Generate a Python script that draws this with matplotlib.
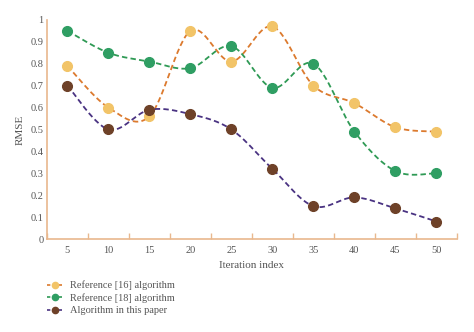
import numpy as np
import matplotlib
matplotlib.use("Agg")
import matplotlib.pyplot as plt
from matplotlib.lines import Line2D

iterations = ["5", "10", "15", "20", "25", "30", "35", "40", "45", "50"]
ref16 = [0.79, 0.60, 0.56, 0.95, 0.81, 0.97, 0.70, 0.62, 0.51, 0.49]
ref18 = [0.95, 0.85, 0.81, 0.78, 0.88, 0.69, 0.80, 0.49, 0.31, 0.30]
ours = [0.70, 0.50, 0.59, 0.57, 0.50, 0.32, 0.15, 0.19, 0.14, 0.08]
labels = ["Reference [16] algorithm", "Reference [18] algorithm", "Algorithm in this paper"]

plt.rcParams["font.family"] = ["Liberation Serif", "DejaVu Serif"]
text_color = "#555555"
axis_color = "#e9b88e"

fig = plt.figure(figsize=(4.74, 3.32), dpi=100)
ax = fig.add_axes([0.099, 0.280, 0.865, 0.660])

x = np.arange(len(iterations))


def smooth(xs, ys, sx=41.0, sy=219.0, n=30):
    """Catmull-Rom style bezier smoothing computed in screen-like units."""
    px = np.asarray(xs, float) * sx
    py = np.asarray(ys, float) * sy
    P = np.column_stack([px, py])
    P_ext = np.vstack([P[0], P, P[-1]])
    out = []
    t = np.linspace(0, 1, n)[:, None]
    for i in range(len(P) - 1):
        p0, p1, p2, p3 = P_ext[i], P_ext[i + 1], P_ext[i + 2], P_ext[i + 3]
        c1 = p1 + (p2 - p0) / 6.0
        c2 = p2 - (p3 - p1) / 6.0
        seg = ((1 - t) ** 3) * p1 + 3 * ((1 - t) ** 2) * t * c1 + 3 * (1 - t) * t ** 2 * c2 + t ** 3 * p2
        out.append(seg if i == 0 else seg[1:])
    out = np.vstack(out)
    return out[:, 0] / sx, out[:, 1] / sy


series = [
    (ref16, "#dc7a2e", "#f2c468"),
    (ref18, "#2f9a55", "#2f9e63"),
    (ours, "#4a3382", "#6e4128"),
]

for vals, lc, mc in series:
    sxv, syv = smooth(x, vals)
    ax.plot(sxv, syv, color=lc, lw=1.3, ls=(0, (3, 1.8)), zorder=2)
    ax.plot(x, vals, ls="none", marker="o", ms=7, mfc=mc, mec=mc, zorder=3)

ax.set_xlim(-0.5, len(iterations) - 0.5)
ax.set_ylim(0, 1)
ax.set_xticks(x)
ax.set_xticklabels(iterations)
ax.set_xticks(np.arange(-0.5, len(iterations) + 0.5, 1), minor=True)
ax.tick_params(axis="x", which="major", length=0, pad=5, labelsize=7.5, labelcolor=text_color)
ax.tick_params(axis="x", which="minor", direction="in", length=4, color=axis_color, width=1)
ax.set_yticks(np.arange(0, 1.01, 0.1))
ax.set_yticklabels(["0"] + [f"{v:.1f}" for v in np.arange(0.1, 1.0, 0.1)] + ["1"])
ax.tick_params(axis="y", length=0, pad=2.5, labelsize=7.5, labelcolor=text_color)

for s in ["top", "right"]:
    ax.spines[s].set_visible(False)
for s in ["left", "bottom"]:
    ax.spines[s].set_color(axis_color)
    ax.spines[s].set_linewidth(1.2)

ax.set_xlabel("Iteration index", fontsize=8, color=text_color, labelpad=4)
ax.set_ylabel("RMSE", fontsize=8, color=text_color, labelpad=4)

handles = [
    Line2D([], [], color=lc, lw=1.2, ls=(0, (2, 1.5)), marker="o", ms=4.5, mfc=mc, mec=mc)
    for _, lc, mc in series
]
fig.legend(handles, labels, loc="upper left", bbox_to_anchor=(0.088, 0.17),
           frameon=False, fontsize=7.5, handlelength=1.5, handletextpad=0.75,
           labelspacing=0.28, labelcolor=text_color, borderpad=0)

fig.savefig("out.png", dpi=100)
